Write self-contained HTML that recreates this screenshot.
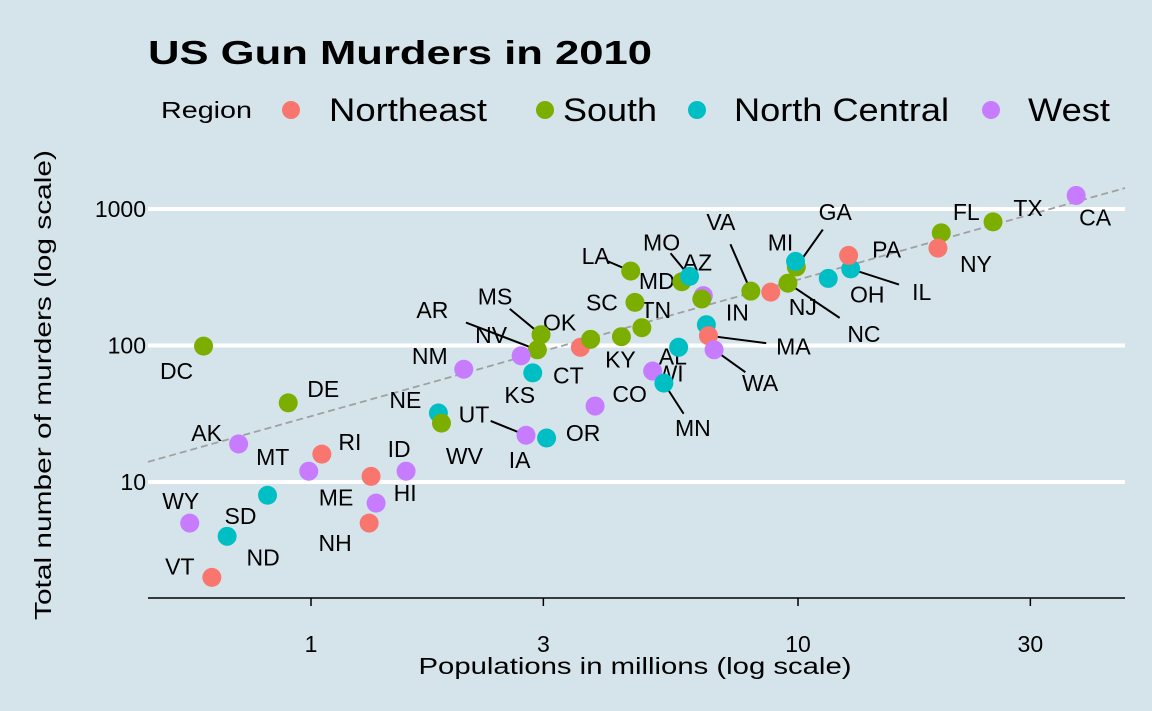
<!DOCTYPE html>
<html><head><meta charset="utf-8">
<style>
html,body{margin:0;padding:0;background:#d5e4eb;}
svg{display:block;font-family:"Liberation Sans",Arial,sans-serif;}
</style></head>
<body>
<svg id="chart" width="1152" height="711" viewBox="0 0 1152 711">
<rect x="0" y="0" width="1152" height="711" fill="#d5e4eb"/>
<text x="148" y="64" font-size="33" font-weight="bold" textLength="504" lengthAdjust="spacingAndGlyphs">US Gun Murders in 2010</text>
<g>
<text x="161" y="118" font-size="23" textLength="91" lengthAdjust="spacingAndGlyphs">Region</text>
<circle cx="291" cy="110" r="9" fill="#F8766D"/>
<text x="329" y="121" font-size="32" textLength="158" lengthAdjust="spacingAndGlyphs">Northeast</text>
<circle cx="545" cy="110" r="9" fill="#7CAE00"/>
<text x="563" y="121" font-size="32" textLength="94" lengthAdjust="spacingAndGlyphs">South</text>
<circle cx="697" cy="110" r="9" fill="#00BFC4"/>
<text x="734" y="121" font-size="32" textLength="215" lengthAdjust="spacingAndGlyphs">North Central</text>
<circle cx="991" cy="110" r="9" fill="#C77CFF"/>
<text x="1028" y="121" font-size="32" textLength="82" lengthAdjust="spacingAndGlyphs">West</text>
</g>
<g id="grid"></g>
<g id="axes"></g>
<g id="marks"></g>
<text x="635" y="674" font-size="23" text-anchor="middle" textLength="433" lengthAdjust="spacingAndGlyphs">Populations in millions (log scale)</text>
<text transform="translate(51,385) rotate(-90)" font-size="23" text-anchor="middle" textLength="470" lengthAdjust="spacingAndGlyphs">Total number of murders (log scale)</text>
</svg>
<script>
const abbs=["AL","AK","AZ","AR","CA","CO","CT","DE","DC","FL","GA","HI","ID","IL","IN","IA","KS","KY","LA","ME","MD","MA","MI","MN","MS","MO","MT","NE","NV","NH","NJ","NM","NY","NC","ND","OH","OK","OR","PA","RI","SC","SD","TN","TX","UT","VT","VA","WA","WV","WI","WY"];
const regions=["S","W","W","S","W","W","NE","S","S","S","S","W","W","NC","NC","NC","NC","S","S","NE","S","NE","NC","NC","S","NC","W","NC","W","NE","NE","W","NE","S","NC","NC","S","W","NE","NE","S","NC","S","S","W","NE","S","W","S","NC","W"];
const population=[4779736,710231,6392017,2915918,37253956,5029196,3574097,897934,601723,19687653,9920000,1360301,1567582,12830632,6483802,3046355,2853118,4339367,4533372,1328361,5773552,6547629,9883640,5303925,2967297,5988927,989415,1826341,2700551,1316470,8791894,2059179,19378102,9535483,672591,11536504,3751351,3831074,12702379,1052567,4625364,814180,6346105,25145561,2763885,625741,8001024,6724540,1852994,5686986,563626];
const totals=[135,19,232,93,1257,65,97,38,99,669,376,7,12,364,142,21,63,116,351,11,293,118,413,53,120,321,12,32,84,5,246,67,517,286,4,310,111,36,457,16,207,8,219,805,22,2,250,93,27,97,5];
const xTicks=[1,3,10,30];
const xTickLabels=["1","3","10","30"];
const yTicks=[10,100,1000];
const yTickLabels=["10","100","1000"];
const labelDx=[31,-32,-6,-105,19,-23,-12,35,-27,25,39,29,-7,71,31,-27,-13,-1,-35,-35,-25,85,-15,29,-46,-28,-36,-33,-30,-34,32,-34,38,76,36,39,-31,-12,38,28,-33,-27,-46,35,-52,-32,-30,46,23,-9,-9];
const labelDy=[29,-11,-33,-40,22,23,28,-14,25,-21,-55,-10,-22,23,-12,22,22,23,-15,21,-1,11,-19,45,-38,-34,-14,-13,-21,20,15,-13,16,51,21,16,-17,27,-6,-12,0,21,11,-14,-21,-11,-69,33,33,26,-22];
const leader=["AR","GA","IL","UT","LA","MA","MN","MS","MO","NC","VA","WA"];
const colors={NE:"#F8766D",S:"#7CAE00",NC:"#00BFC4",W:"#C77CFF"};
const X0=311,XD=487,Y0=482,YD=136.5;
function xs(m){return X0+XD*Math.log10(m);}
function ys(v){return Y0-YD*(Math.log10(v)-1);}
const NS="http://www.w3.org/2000/svg";
function mk(t,a,p){const e=document.createElementNS(NS,t);for(const k in a)e.setAttribute(k,a[k]);p.appendChild(e);return e;}
const grid=document.getElementById('grid'),axes=document.getElementById('axes'),marks=document.getElementById('marks');
yTicks.forEach((v,i)=>{
  const l=mk('line',{x1:148,x2:1125,y1:ys(v),y2:ys(v),stroke:'#fff','stroke-width':4},grid);
  
  
  const t=mk('text',{x:146,y:ys(v)+8,'font-size':23,'text-anchor':'end'},axes);
  t.textContent=yTickLabels[i];
  
  
});
const ax=mk('line',{x1:148,x2:1125,y1:598,y2:598,stroke:'#000','stroke-width':1.5},axes);


xTicks.forEach((v,i)=>{
  const tk=mk('line',{x1:xs(v),x2:xs(v),y1:598,y2:606,stroke:'#000','stroke-width':1.5},axes);
  
  
  const t=mk('text',{x:xs(v),y:652,'font-size':23,'text-anchor':'middle'},axes);
  t.textContent=xTickLabels[i];
  
  
});
let sp=0,st=0;population.forEach((p,i)=>{sp+=p;st+=totals[i];});
const rate=st/sp*1e6;
const xmin=Math.pow(10,(148-X0)/XD),xmax=Math.pow(10,(1125-X0)/XD);
const rl=mk('line',{x1:148,y1:ys(rate*xmin),x2:1125,y2:ys(rate*xmax),stroke:'#a0a0a0','stroke-width':1.8,'stroke-dasharray':'7,4'},marks);


const pts=[];
abbs.forEach((a,i)=>{
  const cx=xs(population[i]/1e6),cy=ys(totals[i]);
  pts.push([cx,cy]);
  const lx=cx+labelDx[i],ly=cy+labelDy[i];
  if(leader.includes(a)){
    const ln=mk('line',{x1:cx,y1:cy,x2:cx+labelDx[i]*0.68,y2:cy+labelDy[i]*0.68,stroke:'#000','stroke-width':2},marks);
    
    
  }
  const t=mk('text',{x:lx,y:ly+8,'font-size':23,'text-anchor':'middle'},marks);
  t.textContent=a;
  
  
});
abbs.forEach((a,i)=>{
  const c=mk('circle',{cx:pts[i][0],cy:pts[i][1],r:9.5,fill:colors[regions[i]]},marks);
  
  
});
</script>
</body></html>
